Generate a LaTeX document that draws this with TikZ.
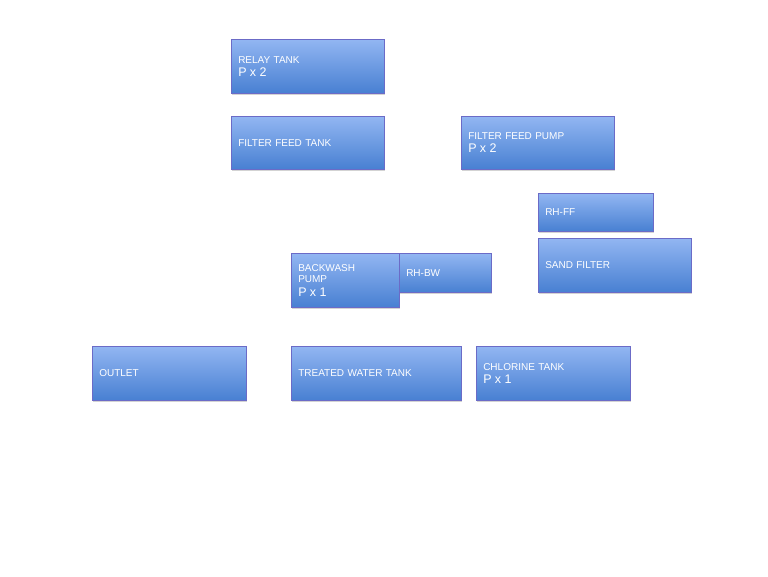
\documentclass[tikz,border=0pt]{standalone}
\usepackage{fontspec}
\setmainfont{Liberation Sans}
\usetikzlibrary{shadows}
\newcommand{\bigtxt}{\fontsize{12.5}{14}\selectfont}
\begin{document}
\begin{tikzpicture}[x=1pt,y=-1pt,
 box/.style={draw=blue!45!gray!80, line width=0.5pt, top color={rgb,255:red,146;green,182;blue,242}, bottom color={rgb,255:red,72;green,128;blue,210}, text=white, align=left, anchor=north west, inner xsep=7pt, inner ysep=2pt, font=\fontsize{10}{11}\selectfont, drop shadow={shadow xshift=1pt,shadow yshift=-1.5pt,opacity=0.35}}]
\useasboundingbox (0,0) rectangle (768,576);
\newcommand{\bx}[6]{\node[box, minimum width=#4pt-#2pt, minimum height=#5pt-#3pt, text width=#4pt-#2pt-14pt] (#1) at (#2,#3) {#6};}
\bx{relay}{231}{39}{384}{93}{RELAY TANK\\[2pt]{\bigtxt P x 2}}
\bx{fft}{231}{116}{384}{169}{FILTER FEED TANK}
\bx{ffp}{461}{116}{614}{169}{FILTER FEED PUMP\\[2pt]{\bigtxt P x 2}}
\bx{rhff}{538}{193}{653}{231}{RH-FF}
\bx{sand}{538}{238}{691}{292}{SAND FILTER}
\bx{rhbw}{399}{253}{491}{292}{RH-BW}
\bx{bwp}{291}{253}{399}{307}{BACKWASH\\PUMP\\[3pt]{\bigtxt P x 1}}
\bx{outlet}{92}{346}{246}{400}{OUTLET}
\bx{twt}{291}{346}{461}{400}{TREATED WATER TANK}
\bx{cl}{476}{346}{630}{400}{CHLORINE TANK\\[2pt]{\bigtxt P x 1}}
\end{tikzpicture}
\end{document}
